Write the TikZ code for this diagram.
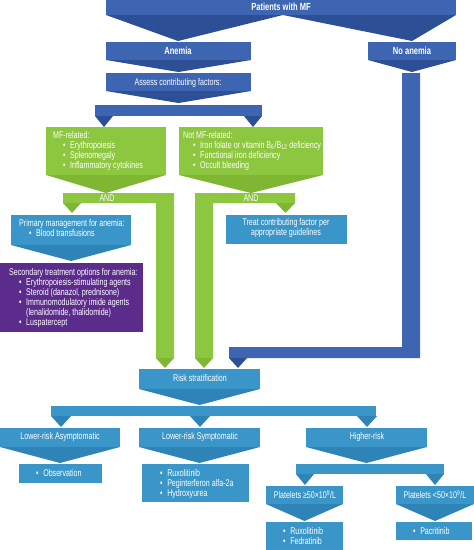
\documentclass[tikz,border=0pt]{standalone}
\usepackage{fontspec}
\setmainfont{Liberation Sans}[FakeStretch=0.73]
\usepackage{xcolor}
\usepackage{tikz}

\definecolor{mfblue}{HTML}{3D65B1}
\definecolor{mfblueV}{HTML}{2C4F95}
\definecolor{mfgreen}{HTML}{8DC63F}
\definecolor{mfgreenV}{HTML}{7FB733}
\definecolor{mfcyan}{HTML}{3A96C9}
\definecolor{mfcyanV}{HTML}{2E83B7}
\definecolor{mfpurple}{HTML}{5B2C8C}

% box with a V underneath: colour, x1, y1, x2, y2, apex
\newcommand{\chevbox}[6]{%
  \fill[#1] (#2,#3) rectangle (#4,#5);
  \fill[#1V] (#2,#5) -- (#4,#5) -- ({(#2+#4)/2},#6) -- cycle;}
% small down arrow head: colour, x1, x2, y, apex
\newcommand{\tri}[5]{%
  \fill[#1] (#2,#4) -- (#3,#4) -- ({(#2+#3)/2},#5) -- cycle;}
\newcommand{\bul}{\makebox[6pt][l]{\textbullet}}
\newcommand{\itm}{\hspace*{8.5pt}\bul}
\newcommand{\itmcont}{\hspace*{14.5pt}}

\tikzset{
  lbl/.style={text=white, inner sep=0pt, font=\fontsize{8.3}{8.5}\selectfont},
  hdr/.style={lbl, font=\fontsize{8.8}{9}\selectfont\bfseries},
  lst/.style={lbl, align=left, anchor=north west},
}

\begin{document}
\begin{tikzpicture}[x=0.03cm, y=-0.03cm]
\useasboundingbox (0,0) rectangle (474,550);

% top banner
\fill[mfblue] (106,0) rectangle (456,15);
\fill[mfblueV] (106,15) -- (178,41) -- (283,15) -- (412,41) -- (456,15) -- cycle;
\node[hdr] (patients) at (281,7) {Patients with MF};

\chevbox{mfblue}{106}{42}{251}{60}{72}
\node[hdr] (anemia) at (178,51) {Anemia};
\chevbox{mfblue}{368}{42}{456}{60}{72}
\node[hdr] (noanemia) at (412,51) {No anemia};

\chevbox{mfblue}{106}{73}{251}{91}{103}
\node[lbl] (assess) at (178,83) {Assess contributing factors:};

\fill[mfblue] (95,105) rectangle (262,116);
\tri{mfblueV}{95}{113}{116}{127}
\tri{mfblueV}{244}{262}{116}{127}

% green boxes
\chevbox{mfgreen}{46}{127}{166}{175}{193}
\node[lst] (mfrel) at (53,131) {MF-related:\\ \itm Erythropoiesis\\ \itm Splenomegaly\\ \itm Inflammatory cytokines};
\chevbox{mfgreen}{179}{127}{323}{175}{193}
\node[lst] (notmf) at (183,131) {Not MF-related:\\ \itm Iron folate or vitamin B\textsubscript{6}/B\textsubscript{12} deficiency\\ \itm Functional iron deficiency\\ \itm Occult bleeding};

% AND arrows
\fill[mfgreen] (63,193) -- (174,193) -- (174,358) -- (156,358) -- (156,203) -- (63,203) -- cycle;
\tri{mfgreenV}{63}{81}{203}{213}
\tri{mfgreenV}{156}{174}{358}{368}
\node[lbl] (and1) at (107,198) {AND};
\fill[mfgreen] (195,193) -- (295,193) -- (295,203) -- (213,203) -- (213,358) -- (195,358) -- cycle;
\tri{mfgreenV}{276}{295}{203}{213}
\tri{mfgreenV}{195}{213}{358}{368}
\node[lbl] (and2) at (251,198) {AND};

% management
\chevbox{mfcyan}{11}{215}{131}{245}{261}
\node[lst] (primary) at (19,219) {Primary management for anemia:\\ \itm Blood transfusions};
\fill[mfcyan] (226,215) rectangle (347,244);
\node[lbl, align=center] (treat) at (286,228) {Treat contributing factor per\\ appropriate guidelines};
\fill[mfpurple] (0,263) rectangle (143,332);
\node[lst] (secondary) at (9,268) {Secondary treatment options for anemia:\\ \itm Erythropoiesis-stimulating agents\\ \itm Steroid (danazol, prednisone)\\ \itm Immunomodulatory imide agents\\ \itmcont(lenalidomide, thalidomide)\\ \itm Luspatercept};

% no anemia path
\fill[mfblue] (402,73) -- (420,73) -- (420,358) -- (229,358) -- (229,347) -- (402,347) -- cycle;
\tri{mfblueV}{229}{247}{358}{368}

% risk
\chevbox{mfcyan}{139}{369}{260}{389}{405}
\node[lbl] (risk) at (200,378) {Risk stratification};
\fill[mfcyan] (51,406) rectangle (376,416);
\tri{mfcyanV}{51}{71}{416}{427}
\tri{mfcyanV}{190}{210}{416}{427}
\tri{mfcyanV}{357}{377}{416}{427}

\chevbox{mfcyan}{0}{428}{120}{447}{463}
\node[lbl] (asym) at (60,437) {Lower-risk Asymptomatic};
\chevbox{mfcyan}{139}{428}{260}{447}{463}
\node[lbl] (sym) at (200,437) {Lower-risk Symptomatic};
\chevbox{mfcyan}{306}{428}{427}{447}{463}
\node[lbl] (high) at (367,437) {Higher-risk};

\fill[mfcyan] (19,464) rectangle (102,483);
\node[lbl, anchor=west] (obs) at (36,473) {\bul Observation};
\fill[mfcyan] (142,464) rectangle (249,502);
\node[lst] (symtx) at (160,469) {\bul Ruxolitinib\\ \bul Peginterferon alfa-2a\\ \bul Hydroxyurea};

\fill[mfcyan] (296,464) rectangle (444,474);
\tri{mfcyanV}{296}{314}{474}{485}
\tri{mfcyanV}{426}{444}{474}{485}

\chevbox{mfcyan}{266}{486}{343}{504}{521}
\node[lbl] (plthi) at (305,495) {Platelets ≥50×10\textsuperscript{9}/L};
\chevbox{mfcyan}{396}{486}{474}{504}{521}
\node[lbl] (pltlo) at (435,495) {Platelets <50×10\textsuperscript{9}/L};

\fill[mfcyan] (266,522) rectangle (343,550);
\node[lst] (hitx) at (283,527) {\bul Ruxolitinib\\ \bul Fedratinib};
\fill[mfcyan] (396,522) rectangle (472,540);
\node[lbl, anchor=west] (lotx) at (413,531) {\bul Pacritinib};
\end{tikzpicture}
\end{document}
